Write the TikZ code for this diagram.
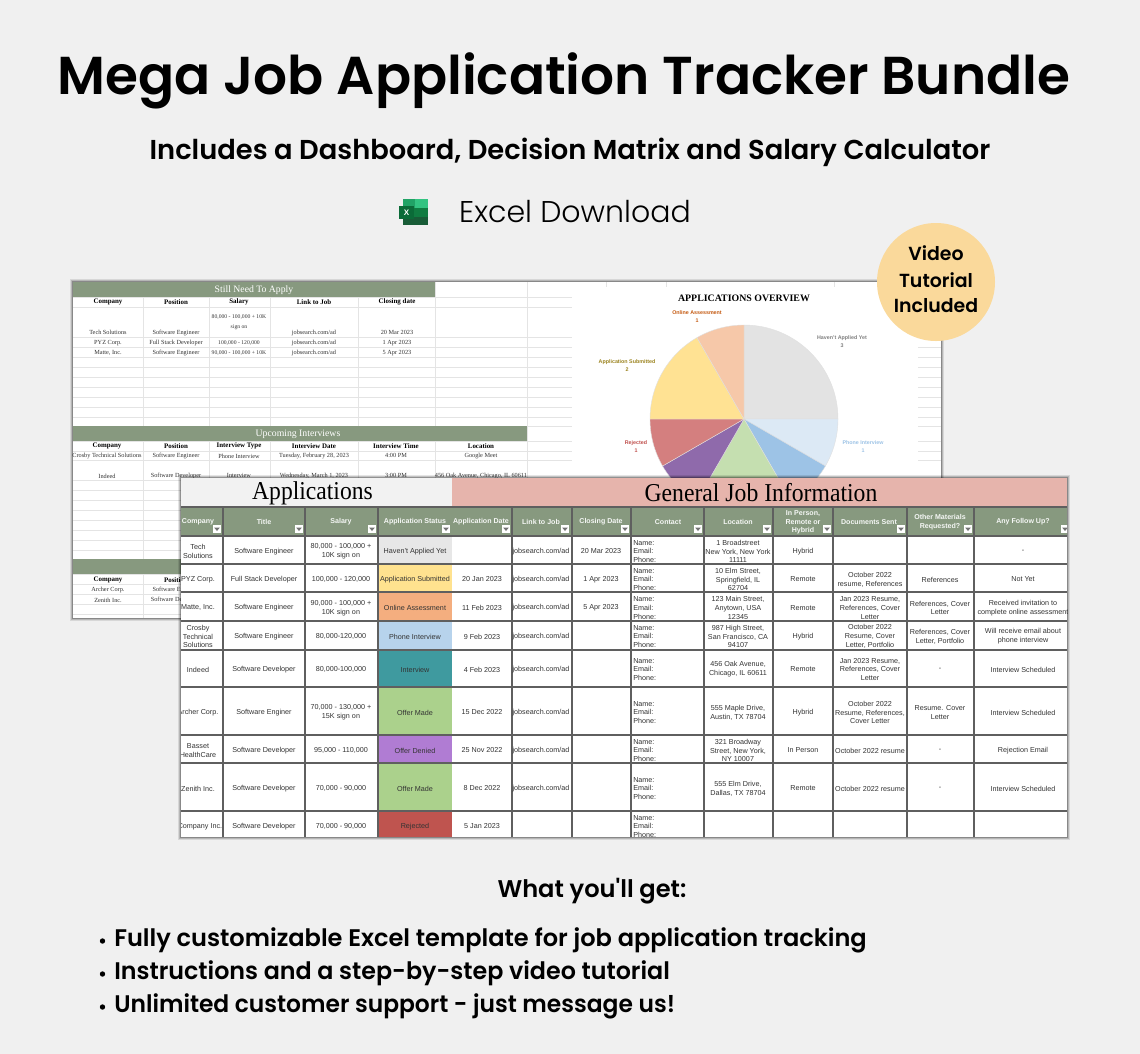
\documentclass[tikz,border=0pt]{standalone}
\usepackage{fontspec}
\setmainfont{Liberation Sans}
\newfontfamily\pop{Poppins SemiBold}
\newfontfamily\popl{Poppins Light}
\newfontfamily\ser{Liberation Serif}
\definecolor{bgc}{HTML}{F0F0F0}
\definecolor{sage}{HTML}{87997F}
\definecolor{gridl}{HTML}{E4E4E4}
\definecolor{cellln}{HTML}{5F5F5F}
\definecolor{inkc}{HTML}{333333}
\definecolor{pinkb}{HTML}{E6B4AC}
\definecolor{badge}{HTML}{FAD99B}
\definecolor{xla}{HTML}{33C481}
\definecolor{xlb}{HTML}{21A366}
\definecolor{xlc}{HTML}{107C41}
\definecolor{xld}{HTML}{185C37}
\definecolor{xle}{HTML}{0B6B38}
\definecolor{pgray}{HTML}{E3E3E3}
\definecolor{pphone}{HTML}{DCE9F5}
\definecolor{pblue}{HTML}{9DC3E6}
\definecolor{pgreen}{HTML}{C5DFB0}
\definecolor{ppurple}{HTML}{8F6AAB}
\definecolor{pred}{HTML}{D47F7F}
\definecolor{pyellow}{HTML}{FFE293}
\definecolor{porange}{HTML}{F6C8A9}
\definecolor{lorange}{HTML}{C55A11}
\definecolor{lyellow}{HTML}{9C8420}
\definecolor{lred}{HTML}{C0504D}
\definecolor{sgray}{HTML}{E7E7E7}
\definecolor{syellow}{HTML}{FFE28F}
\definecolor{sorange}{HTML}{F4AE7F}
\definecolor{sblue}{HTML}{B7D3EC}
\definecolor{steal}{HTML}{3F9A9F}
\definecolor{sgreen}{HTML}{ABD18C}
\definecolor{spurple}{HTML}{B07CD3}
\definecolor{sred}{HTML}{BF544F}
\newcounter{tn}
\newcommand\TX[4][]{\stepcounter{tn}\node[inner sep=0pt,#1] (t\arabic{tn}) at (#2,#3) {#4};}
\tikzset{
  fc/.style={font=\fontsize{5.4}{6.6}\selectfont,text=inkc,align=center,yshift=-1.1pt},
  fh/.style={font=\fontsize{5.3}{6.6}\selectfont\bfseries,text=white!92!sage,align=center,yshift=-.7pt},
  bc/.style={font=\ser\fontsize{4.7}{5.6}\selectfont,text=inkc,align=center,yshift=-.7pt},
  bcs/.style={font=\ser\fontsize{4.25}{5.6}\selectfont,text=inkc,align=center,yshift=-.7pt},
  bh/.style={font=\ser\fontsize{5.2}{6}\selectfont\bfseries,text=black,align=center,yshift=-.7pt},
  bar/.style={font=\ser\fontsize{7.3}{8}\selectfont,text=white},
  lab/.style={font=\fontsize{4}{6}\selectfont\bfseries,align=center},
  head/.style={text=black},
  bigt/.style={font=\ser\fontsize{19.3}{22}\selectfont,text=black,anchor=base},
  slice/.style={draw=black!12,line width=.3pt},
  faint/.style={draw=gridl,line width=.6pt},
  cellline/.style={draw=cellln,line width=.8pt},
  bull/.style={head,anchor=west,font=\pop\fontsize{18}{21}\selectfont},
  badget/.style={head,font=\pop\fontsize{14.2}{18}\selectfont}
}
\newcommand\FB[2]{\fill[white] (#1-4,#2-4) rectangle (#1+4,#2+4);
  \fill[black!55] (#1-2.8,#2-1.4) -- (#1+2.8,#2-1.4) -- (#1,#2+2) -- cycle;}
\newcommand\SH[4]{\fill[black,opacity=.10] (#1-3,#2-3) rectangle (#3+3,#4+3);
  \fill[black,opacity=.15] (#1-2,#2-2) rectangle (#3+2,#4+2);
  \fill[black,opacity=.25] (#1-1,#2-1) rectangle (#3+1,#4+1);}
\newcommand\SL[3]{\fill[fill=#3,slice] (744,419) -- ++(#1:94) arc[start angle=#1,end angle=#2,radius=94] -- cycle;}
\begin{document}
\begin{tikzpicture}[x=.75pt,y=-.75pt]
\useasboundingbox (0,0) rectangle (1140,1054);
\fill[bgc] (0,0) rectangle (1140,1054);
% headings
\TX[head,font=\pop\fontsize{40}{48}\selectfont]{564}{81}{Mega Job Application Tracker Bundle}
\TX[head,font=\pop\fontsize{20.5}{24}\selectfont]{570}{152.5}{Includes a Dashboard, Decision Matrix and Salary Calculator}
\TX[font=\popl\fontsize{22.5}{26}\selectfont,text=black]{575}{212}{Excel Download}
% excel icon
\fill[xla] (403,199) rectangle (428,208);
\fill[xlb] (403,199) rectangle (415,208);
\fill[xlc] (403,208) rectangle (428,217);
\fill[xld] (403,217) rectangle (428,225);
\fill[xle] (399,206) rectangle (414,219);
\TX[font=\bfseries\fontsize{6}{7}\selectfont,text=white]{406.5}{212.5}{X}
% back sheet
\SH{73}{282}{941}{618}
\fill[white] (73,282) rectangle (941,618);
\foreach \yy in {297,307,337,347,357,367,377,387,397,407,417,426,441,451,460,480,490,500,510,520,530,540,550,559,574,584,594,604,614}
  \draw[faint] (73,\yy) -- (941,\yy);
\foreach \xx in {143,209,270,358,435,527,606,666,834}
  \draw[faint] (\xx,282) -- (\xx,618);
\fill[sage] (73,282) rectangle (435,297);
\fill[sage] (73,426) rectangle (527,441);
\fill[sage] (73,559) rectangle (435,574);
\TX[bar]{254}{290}{Still Need To Apply}
\TX[bar]{298}{434}{Upcoming Interviews}
\TX[bh]{108}{301}{Company}\TX[bh]{176}{301}{Position}\TX[bh]{239}{301}{Salary}\TX[bh]{314}{301}{Link to Job}\TX[bh]{397}{301}{Closing date}
\TX[bc]{108}{331.7}{Tech Solutions}\TX[bc]{176}{331.7}{Software Engineer}\TX[bcs,font=\ser\fontsize{4.25}{7.5}\selectfont]{239}{321}{80,000 - 100,000 + 10K\\sign on}\TX[bc]{314}{331.7}{jobsearch.com/ad}\TX[bc]{397}{331.7}{20 Mar 2023}
\TX[bc]{108}{342}{PYZ Corp.}\TX[bc]{176}{342}{Full Stack Developer}\TX[bcs]{239}{342}{100,000 - 120,000}\TX[bc]{314}{342}{jobsearch.com/ad}\TX[bc]{397}{342}{1 Apr 2023}
\TX[bc]{108}{351.7}{Matte, Inc.}\TX[bc]{176}{351.7}{Software Engineer}\TX[bcs]{239}{351.7}{90,000 - 100,000 + 10K}\TX[bc]{314}{351.7}{jobsearch.com/ad}\TX[bc]{397}{351.7}{5 Apr 2023}
\TX[bh]{107}{445}{Company}\TX[bh]{176}{445}{Position}\TX[bh]{239}{445}{Interview Type}\TX[bh]{314}{445}{Interview Date}\TX[bh]{396}{445}{Interview Time}\TX[bh]{481}{445}{Location}
\TX[bc]{107}{455}{Crosby Technical Solutions}\TX[bc]{176}{455}{Software Engineer}\TX[bc]{239}{455}{Phone Interview}\TX[bc]{314}{455}{Tuesday, February 28, 2023}\TX[bc]{396}{455}{4:00 PM}\TX[bc]{481}{455}{Google Meet}
\TX[bc]{107}{475}{Indeed}\TX[bc]{176}{475}{Software Developer}\TX[bc]{239}{475}{Interview}\TX[bc]{314}{475}{Wednesday, March 1, 2023}\TX[bc]{396}{475}{3:00 PM}\TX[bc]{481}{475}{456 Oak Avenue, Chicago, IL 60611}
\TX[bh]{108}{579}{Company}\TX[bh]{176}{579}{Position}
\TX[bc]{108}{589}{Archer Corp.}\TX[bc]{176}{589}{Software Engineer}
\TX[bc]{108}{599}{Zenith Inc.}\TX[bc]{176}{599}{Software Developer}
% chart
\fill[white] (572,287) rectangle (918,500);
\TX[font=\ser\bfseries\fontsize{7.4}{8}\selectfont]{744}{298}{APPLICATIONS OVERVIEW}
\SL{-90}{0}{pgray}
\SL{0}{30}{pphone}
\SL{30}{60}{pblue}
\SL{60}{120}{pgreen}
\SL{120}{150}{ppurple}
\SL{150}{180}{pred}
\SL{180}{240}{pyellow}
\SL{240}{270}{porange}
\TX[lab,text=lorange]{697}{317}{Online Assessment\\1}
\TX[lab,text=black!50]{842}{342}{Haven't Applied Yet\\3}
\TX[lab,text=lyellow]{627}{366}{Application Submitted\\2}
\TX[lab,text=lred]{636}{447}{Rejected\\1}
\TX[lab,text=pblue]{863}{447}{Phone Interview\\1}
% badge
\node[circle,fill=badge,minimum size=118*.75pt,inner sep=0pt] (vb) at (936,282) {};
\TX[badget]{936}{253}{Video}
\TX[badget]{936}{280}{Tutorial}
\TX[badget]{936}{306}{Included}
% front sheet
\SH{181}{478}{1067}{837}
\begin{scope}
\clip (181,478) rectangle (1067,837);
\fill[white] (181,478) rectangle (1067,837);
\fill[black!5] (181,478) rectangle (452,507);
\fill[pinkb] (452,478) rectangle (1067,507);
\fill[sage] (181,507) rectangle (1067,536);
\TX[bigt]{312.5}{499}{\scalebox{.917}[1]{Applications}}
\TX[bigt]{761}{501.5}{\scalebox{.92}[1]{General Job Information}}
% status fills
\fill[sgray] (378,536) rectangle (452,564);
\fill[syellow] (378,564) rectangle (452,592);
\fill[sorange] (378,592) rectangle (452,621);
\fill[sblue] (378,621) rectangle (452,650);
\fill[steal] (378,650) rectangle (452,687);
\fill[sgreen] (378,687) rectangle (452,735);
\fill[spurple] (378,735) rectangle (452,763);
\fill[sgreen] (378,763) rectangle (452,811);
\fill[sred] (378,811) rectangle (452,837);
% grid
\foreach \yy in {507,536,564,592,621,650,687,735,763,811}
  \draw[cellline] (181,\yy) -- (1067,\yy);
\foreach \xx in {223,305,378,512,572,631,704,773,833,907,974}
  \draw[cellline] (\xx,507) -- (\xx,837);
% filter buttons
\foreach \xx in {217,299,372,446,506,565,625,698,767,827,901,968,1065}
  {\FB{\xx}{529}}
% header text
\TX[fh]{198}{521}{Company}\TX[fh]{264}{521}{Title}\TX[fh]{341}{521}{Salary}\TX[fh]{415}{521}{Application Status}\TX[fh]{481}{521}{Application Date}\TX[fh]{541}{521}{Link to Job}\TX[fh]{601}{521}{Closing Date}\TX[fh]{668}{521}{Contact}\TX[fh]{738}{521}{Location}\TX[fh]{803}{521.5}{In Person,\\Remote or\\Hybrid}\TX[fh]{869}{521}{Documents Sent}\TX[fh]{940}{521.5}{Other Materials\\Requested?}\TX[fh]{1023}{521}{Any Follow Up?}
% row 1
\TX[fc]{198}{550}{Tech\\Solutions}\TX[fc]{264}{550}{Software Engineer}\TX[fc]{341}{550}{80,000 - 100,000 +\\10K sign on}\TX[fc]{415}{550}{Haven't Applied Yet}\TX[fc]{541}{550}{jobsearch.com/ad}\TX[fc]{601}{550}{20 Mar 2023}\TX[fc,align=left,anchor=west]{633}{550}{Name:\\Email:\\Phone:}\TX[fc]{738}{550}{1 Broadstreet\\New York, New York\\11111}\TX[fc]{803}{550}{Hybrid}\TX[fc]{1023}{550}{-}
% row 2
\TX[fc]{198}{578}{PYZ Corp.}\TX[fc]{264}{578}{Full Stack Developer}\TX[fc]{341}{578}{100,000 - 120,000}\TX[fc]{415}{578}{Application Submitted}\TX[fc]{482}{578}{20 Jan 2023}\TX[fc]{541}{578}{jobsearch.com/ad}\TX[fc]{601}{578}{1 Apr 2023}\TX[fc,align=left,anchor=west]{633}{578}{Name:\\Email:\\Phone:}\TX[fc]{738}{578}{10 Elm Street,\\Springfield, IL\\62704}\TX[fc]{803}{578}{Remote}\TX[fc]{870}{578}{October 2022\\resume, References}\TX[fc]{940}{578}{References}\TX[fc]{1023}{578}{Not Yet}
% row 3
\TX[fc]{198}{606.5}{Matte, Inc.}\TX[fc]{264}{606.5}{Software Engineer}\TX[fc]{341}{606.5}{90,000 - 100,000 +\\10K sign on}\TX[fc]{415}{606.5}{Online Assessment}\TX[fc]{482}{606.5}{11 Feb 2023}\TX[fc]{541}{606.5}{jobsearch.com/ad}\TX[fc]{601}{606.5}{5 Apr 2023}\TX[fc,align=left,anchor=west]{633}{606.5}{Name:\\Email:\\Phone:}\TX[fc]{738}{606.5}{123 Main Street,\\Anytown, USA\\12345}\TX[fc]{803}{606.5}{Remote}\TX[fc]{870}{606.5}{Jan 2023 Resume,\\References, Cover\\Letter}\TX[fc]{940}{606.5}{References, Cover\\Letter}\TX[fc]{1023}{606.5}{Received invitation to\\complete online assessment}
% row 4
\TX[fc]{198}{635}{Crosby\\Technical\\Solutions}\TX[fc]{264}{635}{Software Engineer}\TX[fc]{341}{635}{80,000-120,000}\TX[fc]{415}{635}{Phone Interview}\TX[fc]{482}{635}{9 Feb 2023}\TX[fc]{541}{635}{jobsearch.com/ad}\TX[fc,align=left,anchor=west]{633}{635}{Name:\\Email:\\Phone:}\TX[fc]{738}{635}{987 High Street,\\San Francisco, CA\\94107}\TX[fc]{803}{635}{Hybrid}\TX[fc]{870}{635}{October 2022\\Resume, Cover\\Letter, Portfolio}\TX[fc]{940}{635}{References, Cover\\Letter, Portfolio}\TX[fc]{1023}{635}{Will receive email about\\phone interview}
% row 5
\TX[fc]{198}{668}{Indeed}\TX[fc]{264}{668}{Software Developer}\TX[fc]{341}{668}{80,000-100,000}\TX[fc]{415}{668}{Interview}\TX[fc]{482}{668}{4 Feb 2023}\TX[fc]{541}{668}{jobsearch.com/ad}\TX[fc,align=left,anchor=west]{633}{668}{Name:\\Email:\\Phone:}\TX[fc]{738}{668}{456 Oak Avenue,\\Chicago, IL 60611}\TX[fc]{803}{668}{Remote}\TX[fc]{870}{668}{Jan 2023 Resume,\\References, Cover\\Letter}\TX[fc]{940}{668}{-}\TX[fc]{1023}{668}{Interview Scheduled}
% row 6
\TX[fc]{198}{711}{Archer Corp.}\TX[fc]{264}{711}{Software Enginer}\TX[fc]{341}{711}{70,000 - 130,000 +\\15K sign on}\TX[fc]{415}{711}{Offer Made}\TX[fc]{482}{711}{15 Dec 2022}\TX[fc]{541}{711}{jobsearch.com/ad}\TX[fc,align=left,anchor=west]{633}{711}{Name:\\Email:\\Phone:}\TX[fc]{738}{711}{555 Maple Drive,\\Austin, TX 78704}\TX[fc]{803}{711}{Hybrid}\TX[fc]{870}{711}{October 2022\\Resume, References,\\Cover Letter}\TX[fc]{940}{711}{Resume. Cover\\Letter}\TX[fc]{1023}{711}{Interview Scheduled}
% row 7
\TX[fc]{198}{749}{Basset\\HealthCare}\TX[fc]{264}{749}{Software Developer}\TX[fc]{341}{749}{95,000 - 110,000}\TX[fc]{415}{749}{Offer Denied}\TX[fc]{482}{749}{25 Nov 2022}\TX[fc]{541}{749}{jobsearch.com/ad}\TX[fc,align=left,anchor=west]{633}{749}{Name:\\Email:\\Phone:}\TX[fc]{738}{749}{321 Broadway\\Street, New York,\\NY 10007}\TX[fc]{803}{749}{In Person}\TX[fc]{870}{749}{October 2022 resume}\TX[fc]{940}{749}{-}\TX[fc]{1023}{749}{Rejection Email}
% row 8
\TX[fc]{198}{787}{Zenith Inc.}\TX[fc]{264}{787}{Software Developer}\TX[fc]{341}{787}{70,000 - 90,000}\TX[fc]{415}{787}{Offer Made}\TX[fc]{482}{787}{8 Dec 2022}\TX[fc]{541}{787}{jobsearch.com/ad}\TX[fc,align=left,anchor=west]{633}{787}{Name:\\Email:\\Phone:}\TX[fc]{738}{787}{555 Elm Drive,\\Dallas, TX 78704}\TX[fc]{803}{787}{Remote}\TX[fc]{870}{787}{October 2022 resume}\TX[fc]{940}{787}{-}\TX[fc]{1023}{787}{Interview Scheduled}
% row 9
\TX[fc]{200}{825}{Company Inc.}\TX[fc]{264}{825}{Software Developer}\TX[fc]{341}{825}{70,000 - 90,000}\TX[fc]{415}{825}{Rejected}\TX[fc]{482}{825}{5 Jan 2023}\TX[fc,align=left,anchor=west]{633}{825}{Name:\\Email:\\Phone:}
\end{scope}
% footer
\TX[head,font=\pop\fontsize{18.1}{22}\selectfont]{592}{891}{What you'll get:}
\fill[black] (102.5,941) circle[radius=2.7];
\fill[black] (102.5,974) circle[radius=2.7];
\fill[black] (102.5,1007) circle[radius=2.7];
\TX[bull]{114}{940}{\scalebox{1.003}[1]{Fully customizable Excel template for job application tracking}}
\TX[bull]{114}{973}{\scalebox{.991}[1]{Instructions and a step-by-step video tutorial}}
\TX[bull]{114}{1006}{\scalebox{.974}[1]{Unlimited customer support - just message us!}}
\end{tikzpicture}
\end{document}
